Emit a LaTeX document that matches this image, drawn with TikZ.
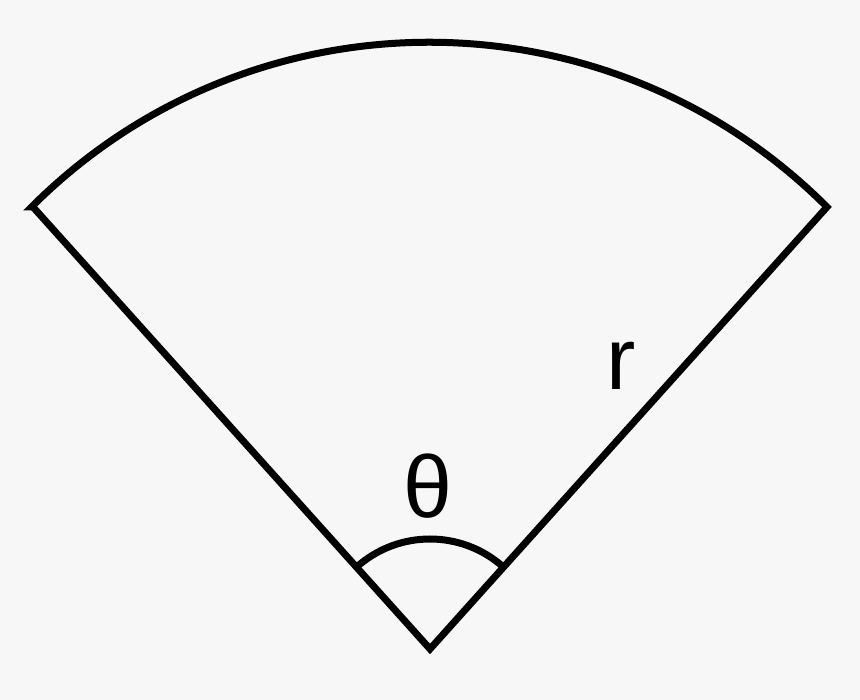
\documentclass[tikz,border=0pt]{standalone}
\usepackage{fontspec}
\setmainfont{Liberation Sans}
\usetikzlibrary{positioning}
\definecolor{paper}{HTML}{F7F7F7}

\begin{document}
\begin{tikzpicture}[x=0.01cm, y=0.01cm, line width=0.07cm,
    lbl/.style={font=\fontsize{25}{30}\selectfont, inner sep=0pt, anchor=base}]
                \useasboundingbox (0,0) rectangle (860,700);
                \fill [paper] (0,0) rectangle (860,700);
                \coordinate (O) at (430,51);
                \coordinate (A) at (33,493);
                \coordinate (B) at (827,493);
                \draw (A) -- (O) -- (B) arc [start angle=45, end angle=135, radius=562.5] -- cycle;
                \draw ([shift={(48.1:110)}]O) arc [start angle=48.1, end angle=131.9, radius=110];
                \node [lbl] (theta) at (428,182) {θ};
                \node [lbl] (r) at (621,310) {r};
            \end{tikzpicture}
\end{document}
